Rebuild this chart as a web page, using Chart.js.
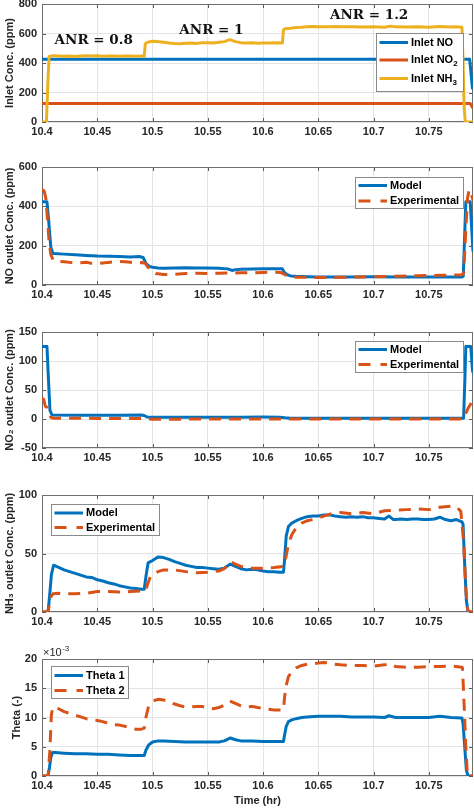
<!DOCTYPE html>
<html>
<head>
<meta charset="utf-8">
<script src="https://cdn.jsdelivr.net/npm/chart.js@4.4.0/dist/chart.umd.min.js"></script>
<style>
  body { margin: 0; background: #fff; width: 474px; height: 808px; overflow: hidden; position: relative; }
</style>
</head>
<body>
<script>
// ---- data (time in hr) ----
const timeTicks = [10.4, 10.45, 10.5, 10.55, 10.6, 10.65, 10.7, 10.75];

// panel 1: inlet concentrations (ppm)
const inletNoTime = [10.4, 10.787, 10.7895, 10.79];
const inletNo = [425, 425, 230, 225];
const inletNo2Time = [10.4, 10.7875, 10.7895, 10.79];
const inletNo2 = [125, 125, 100, 95];
const inletNh3Time = [
  10.4, 10.404, 10.4055, 10.4065, 10.41, 10.415, 10.42, 10.425, 10.43, 10.435,
  10.44, 10.445, 10.45, 10.455, 10.46, 10.465, 10.47, 10.475, 10.48, 10.485,
  10.49, 10.4925, 10.4935, 10.495, 10.5, 10.505, 10.51, 10.515, 10.52, 10.525,
  10.53, 10.535, 10.54, 10.545, 10.55, 10.555, 10.56, 10.565, 10.57, 10.575,
  10.58, 10.585, 10.59, 10.595, 10.6, 10.605, 10.61, 10.6175, 10.6185, 10.62,
  10.625, 10.63, 10.635, 10.64, 10.645, 10.65, 10.66, 10.665, 10.67, 10.68,
  10.69, 10.7, 10.71, 10.715, 10.72, 10.73, 10.74, 10.75, 10.76, 10.77,
  10.775, 10.78, 10.781, 10.782, 10.783, 10.79];
const inletNh3 = [
  0, 0, 300, 445, 450, 448, 445, 447, 444, 448,
  450, 447, 449, 446, 448, 447, 446, 448, 447, 446,
  448, 447, 530, 540, 548, 545, 540, 535, 532, 530,
  534, 536, 533, 538, 537, 536, 540, 545, 558, 545,
  538, 535, 537, 534, 536, 535, 537, 535, 625, 632,
  635, 640, 642, 645, 648, 646, 645, 648, 645, 646,
  644, 645, 643, 650, 645, 644, 646, 643, 647, 644,
  645, 642, 400, 100, 0, 0];
const anrLabels = ['ANR = 0.8', 'ANR = 1', 'ANR = 1.2'];

// panel 2: NO outlet (ppm)
const noModelTime = [
  10.4, 10.4045, 10.406, 10.408, 10.41, 10.42, 10.43, 10.44, 10.45, 10.46,
  10.47, 10.48, 10.488, 10.4915, 10.494, 10.497, 10.5, 10.505, 10.51, 10.52,
  10.53, 10.54, 10.55, 10.56, 10.568, 10.572, 10.575, 10.58, 10.59, 10.6,
  10.61, 10.6175, 10.6195, 10.622, 10.625, 10.63, 10.64, 10.65, 10.66, 10.68,
  10.7, 10.72, 10.74, 10.76, 10.78, 10.7812, 10.7835, 10.7875, 10.79];
const noModel = [
  423, 423, 330, 190, 160, 157, 154, 150, 147, 146,
  145, 143, 145, 140, 110, 95, 90, 86, 85, 87,
  88, 87, 86, 85, 82, 74, 78, 80, 81, 82,
  82, 82, 62, 52, 46, 44, 42, 41, 41, 41,
  42, 41, 41, 41, 41, 45, 423, 423, 170];
const noExpTime = [
  10.4, 10.402, 10.4035, 10.405, 10.4065, 10.408, 10.41, 10.413, 10.42, 10.425,
  10.43, 10.435, 10.44, 10.445, 10.45, 10.455, 10.46, 10.465, 10.47, 10.475,
  10.48, 10.485, 10.49, 10.4935, 10.496, 10.499, 10.503, 10.51, 10.52, 10.53,
  10.54, 10.55, 10.56, 10.57, 10.58, 10.59, 10.6, 10.61, 10.6165, 10.62,
  10.623, 10.63, 10.64, 10.65, 10.66, 10.67, 10.68, 10.69, 10.7, 10.71,
  10.72, 10.73, 10.74, 10.75, 10.76, 10.77, 10.78, 10.7815, 10.7835, 10.785,
  10.7865, 10.788, 10.79];
const noExp = [
  485, 478, 440, 330, 215, 155, 128, 120, 118, 115,
  112, 113, 116, 110, 108, 112, 115, 117, 119, 118,
  116, 112, 114, 110, 90, 70, 58, 53, 55, 58,
  60, 59, 60, 61, 62, 62, 64, 65, 63, 52,
  44, 40, 39, 38, 38, 39, 40, 41, 42, 43,
  45, 46, 47, 48, 49, 50, 52, 60, 280, 440,
  485, 475, 430];

// panel 3: NO2 outlet (ppm)
const no2ModelTime = [
  10.4, 10.4045, 10.4058, 10.4072, 10.409, 10.43, 10.45, 10.47, 10.49, 10.4925,
  10.495, 10.5, 10.52, 10.55, 10.58, 10.6, 10.615, 10.62, 10.625, 10.65,
  10.7, 10.75, 10.7815, 10.7825, 10.7835, 10.788, 10.7895, 10.79];
const no2Model = [
  125, 125, 70, 15, 7, 6.5, 6.5, 6.5, 7, 6,
  3.5, 3, 3, 3, 3.2, 3.5, 3.2, 2, 1.5, 1.5,
  1.5, 1.5, 1.5, 60, 125, 125, 85, 80];
const no2ExpTime = [
  10.4, 10.4015, 10.403, 10.4045, 10.406, 10.408, 10.41, 10.45, 10.49, 10.495,
  10.5, 10.55, 10.6, 10.65, 10.7, 10.75, 10.781, 10.783, 10.786, 10.79];
const no2Exp = [
  35, 34, 22, 20, 10, 3, 1.5, 1, 1, 0,
  -0.5, 0, 0, 0, 0, 0, 0, 8, 20, 32];

// panel 4: NH3 outlet (ppm)
const nh3ModelTime = [
  10.4, 10.4055, 10.407, 10.4085, 10.4105, 10.413, 10.42, 10.425, 10.43, 10.435,
  10.44, 10.445, 10.45, 10.455, 10.46, 10.465, 10.47, 10.475, 10.48, 10.485,
  10.49, 10.4925, 10.494, 10.496, 10.5, 10.505, 10.51, 10.515, 10.52, 10.525,
  10.53, 10.535, 10.54, 10.545, 10.55, 10.555, 10.56, 10.565, 10.5705, 10.575,
  10.58, 10.585, 10.59, 10.595, 10.6, 10.605, 10.61, 10.615, 10.6185, 10.6195,
  10.621, 10.623, 10.626, 10.63, 10.635, 10.64, 10.645, 10.65, 10.655, 10.66,
  10.665, 10.67, 10.675, 10.68, 10.685, 10.69, 10.695, 10.7, 10.705, 10.71,
  10.714, 10.718, 10.72, 10.725, 10.73, 10.735, 10.74, 10.745, 10.75, 10.755,
  10.76, 10.765, 10.77, 10.775, 10.78, 10.781, 10.7825, 10.784, 10.7855, 10.79];
const nh3Model = [
  0, 0, 15, 32, 40, 39, 36, 34.5, 33, 31.5,
  30, 29.5, 27.5, 26.5, 25, 24, 22.5, 21.5, 20.5, 20,
  19.5, 19.5, 30, 42, 44, 47, 46.5, 45, 43, 41.5,
  40, 39, 38, 38, 37.5, 37, 36.5, 37.5, 41, 39,
  37, 36, 36.5, 36, 35, 34.5, 34.5, 34, 34, 45,
  65, 73, 76, 78, 80, 81.5, 82, 82, 83, 83,
  82, 81.5, 81, 81.5, 81, 81.5, 80.5, 80.5, 80, 79.5,
  82, 79, 79, 79.5, 79, 79.5, 79.5, 79, 79, 79.5,
  81, 79, 78, 79, 77, 75, 40, 10, 0, 0];
const nh3ExpTime = [
  10.4, 10.405, 10.4065, 10.408, 10.41, 10.415, 10.42, 10.43, 10.44, 10.45,
  10.46, 10.47, 10.48, 10.49, 10.4935, 10.496, 10.498, 10.5, 10.505, 10.51,
  10.52, 10.53, 10.54, 10.55, 10.56, 10.565, 10.57, 10.575, 10.58, 10.59,
  10.6, 10.61, 10.618, 10.6205, 10.623, 10.626, 10.63, 10.635, 10.64, 10.645,
  10.65, 10.655, 10.66, 10.665, 10.67, 10.68, 10.69, 10.7, 10.71, 10.72,
  10.73, 10.74, 10.75, 10.76, 10.77, 10.775, 10.779, 10.7815, 10.7835, 10.785,
  10.786, 10.79];
const nh3Exp = [
  0, 0, 5, 13, 15.5, 16, 15.5, 15.5, 16, 17.5,
  17.5, 17, 17.5, 18, 18, 25, 30, 32, 34.5, 36,
  36, 34.5, 33.5, 34, 35, 37, 43, 41, 39, 37.5,
  37.5, 38, 39, 46, 58, 66, 72, 76, 78, 79,
  80.5, 82, 83.5, 85, 85, 84, 85, 84, 86.5, 87,
  87.5, 88, 87.5, 89.5, 90.5, 90, 86, 60, 20, 3,
  0, 0];

// panel 5: surface coverage, in units of 1e-3
const theta1Time = [
  10.4, 10.4055, 10.4068, 10.408, 10.4095, 10.412, 10.42, 10.43, 10.44, 10.45,
  10.46, 10.47, 10.48, 10.49, 10.4925, 10.494, 10.4965, 10.5, 10.505, 10.51,
  10.52, 10.53, 10.54, 10.55, 10.56, 10.565, 10.5705, 10.575, 10.58, 10.59,
  10.6, 10.61, 10.6185, 10.6195, 10.621, 10.623, 10.626, 10.63, 10.635, 10.64,
  10.65, 10.66, 10.67, 10.68, 10.69, 10.7, 10.71, 10.714, 10.72, 10.73,
  10.74, 10.75, 10.76, 10.77, 10.78, 10.781, 10.7825, 10.784, 10.7855, 10.79];
const theta1 = [
  0, 0, 1.5, 3.2, 4.0, 4.0, 3.9, 3.8, 3.8, 3.7,
  3.7, 3.6, 3.5, 3.5, 3.5, 4.4, 5.3, 5.8, 6.0, 6.0,
  5.9, 5.8, 5.8, 5.8, 5.8, 6.0, 6.5, 6.2, 6.0, 6.0,
  5.9, 5.9, 5.9, 7.0, 8.5, 9.3, 9.6, 9.8, 10.0, 10.1,
  10.2, 10.2, 10.2, 10.1, 10.1, 10.1, 10.0, 10.3, 10.0, 10.0,
  10.0, 10.0, 10.2, 10.0, 9.9, 9.0, 5, 1, 0, 0];
const theta2Time = [
  10.4, 10.4055, 10.407, 10.4085, 10.41, 10.415, 10.42, 10.425, 10.43, 10.435,
  10.44, 10.445, 10.45, 10.455, 10.46, 10.465, 10.47, 10.475, 10.48, 10.485,
  10.49, 10.4925, 10.494, 10.4965, 10.5, 10.505, 10.51, 10.515, 10.52, 10.525,
  10.53, 10.535, 10.54, 10.545, 10.55, 10.555, 10.56, 10.565, 10.57, 10.575,
  10.58, 10.585, 10.59, 10.595, 10.6, 10.605, 10.61, 10.6185, 10.6195, 10.621,
  10.623, 10.626, 10.63, 10.635, 10.64, 10.645, 10.65, 10.655, 10.66, 10.665,
  10.67, 10.68, 10.69, 10.7, 10.71, 10.715, 10.72, 10.73, 10.74, 10.75,
  10.76, 10.77, 10.78, 10.7805, 10.782, 10.7835, 10.785, 10.79];
const theta2 = [
  0, 0, 4, 10.5, 11.8, 11.5, 11.0, 10.7, 10.4, 10.1,
  9.8, 9.6, 9.5, 9.3, 9.0, 8.8, 8.7, 8.5, 8.2, 8.0,
  8.0, 8.2, 10, 12, 12.8, 13.1, 13.0, 12.6, 12.3, 12.0,
  11.8, 11.8, 11.9, 11.9, 11.6, 11.5, 11.7, 12.1, 12.8, 12.4,
  12.0, 11.8, 11.9, 11.7, 11.6, 11.4, 11.3, 11.3, 13.5, 15.5,
  17.0, 17.8, 18.5, 18.9, 19.1, 19.2, 19.3, 19.4, 19.3, 19.1,
  19.0, 18.9, 18.9, 18.8, 19.0, 19.2, 18.7, 18.6, 18.6, 18.7,
  18.7, 18.8, 18.6, 18.5, 12, 5, 0, 0];

// ---- styling ----
const BLUE = '#0072BD', ORANGE = '#D95319', YELLOW = '#EDB120';
const SANS = '"Liberation Sans", Arial, Helvetica, sans-serif';
const PAD_TOP = 20;
Chart.defaults.color = '#262626';
Chart.defaults.font.family = SANS;

const pts = (t, v) => t.map((x, i) => ({x: x, y: v[i]}));

function series(label, t, v, color, dashed) {
  return {
    label: label, data: pts(t, v), borderColor: color, backgroundColor: color,
    borderWidth: 3, borderDash: dashed ? [12, 8] : [], pointRadius: 0,
    tension: 0, borderJoinStyle: 'round', fill: false
  };
}

// draws text, turning ₂ / ₃ into lowered small digits
function richText(ctx, text, x, y, size) {
  const subs = {'\u2082': '2', '\u2083': '3'};
  let cx = x;
  for (const ch of text) {
    if (subs[ch]) {
      ctx.font = 'bold ' + Math.round(size * 0.75) + 'px ' + SANS;
      ctx.fillText(subs[ch], cx, y + size * 0.38);
      cx += ctx.measureText(subs[ch]).width;
    } else {
      ctx.font = 'bold ' + size + 'px ' + SANS;
      ctx.fillText(ch, cx, y);
      cx += ctx.measureText(ch).width;
    }
  }
}

const frame = {
  id: 'frame',
  beforeDatasetsDraw(chart) {
    const {ctx, chartArea: a, scales} = chart;
    ctx.save();
    ctx.strokeStyle = '#5a5a5a';
    ctx.lineWidth = 1;
    const tl = 4;
    ctx.beginPath();
    scales.x.ticks.forEach(t => {
      const px = Math.round(scales.x.getPixelForValue(t.value)) + 0.5;
      ctx.moveTo(px, a.bottom); ctx.lineTo(px, a.bottom - tl);
      ctx.moveTo(px, a.top); ctx.lineTo(px, a.top + tl);
    });
    scales.y.ticks.forEach(t => {
      const py = Math.round(scales.y.getPixelForValue(t.value)) + 0.5;
      ctx.moveTo(a.left, py); ctx.lineTo(a.left + tl, py);
      ctx.moveTo(a.right, py); ctx.lineTo(a.right - tl, py);
    });
    ctx.stroke();
    ctx.strokeStyle = '#6e6e6e';
    ctx.strokeRect(Math.round(a.left) + 0.5, Math.round(a.top) + 0.5,
      Math.round(a.right - a.left) - 1, Math.round(a.bottom - a.top) - 1);
    ctx.restore();
  },
  afterDraw(chart, args, o) {
    const {ctx, chartArea: a, scales} = chart;
    ctx.save();
    // in-plot annotations
    (o.notes || []).forEach(n => {
      ctx.font = 'bold 13.5px "DejaVu Serif", "Liberation Serif", serif';
      ctx.fillStyle = '#111';
      ctx.textAlign = 'center';
      ctx.textBaseline = 'middle';
      ctx.fillText(n.text, scales.x.getPixelForValue(n.x), scales.y.getPixelForValue(n.y));
    });
    if (o.exponent) {
      ctx.fillStyle = '#262626';
      ctx.textAlign = 'left';
      ctx.textBaseline = 'middle';
      ctx.font = '11px ' + SANS;
      const ex = a.left + 1, ey = a.top - 6;
      ctx.fillText('\u00d710', ex, ey);
      const w = ctx.measureText('\u00d710').width;
      ctx.font = '8px ' + SANS;
      ctx.fillText('-3', ex + w + 0.5, ey - 4);
    }
    // legend box inside the axes
    const L = o.legend;
    if (L) {
      const bx = Math.round(a.left + L.x), by = Math.round(a.top + L.y);
      ctx.fillStyle = '#fff';
      ctx.fillRect(bx, by, L.w, L.h);
      ctx.strokeStyle = '#8a8a8a';
      ctx.lineWidth = 1;
      ctx.strokeRect(bx + 0.5, by + 0.5, L.w, L.h);
      chart.data.datasets.forEach((ds, i) => {
        const y = by + L.rows[i];
        ctx.strokeStyle = ds.borderColor;
        ctx.lineWidth = 3;
        ctx.setLineDash(ds.borderDash.length ? [12, 10] : []);
        ctx.beginPath();
        ctx.moveTo(bx + 3.5, y);
        ctx.lineTo(bx + 32, y);
        ctx.stroke();
        ctx.setLineDash([]);
        ctx.fillStyle = '#000';
        ctx.textAlign = 'left';
        ctx.textBaseline = 'middle';
        richText(ctx, ds.label, bx + 35, y, 11);
      });
    }
    ctx.restore();
  }
};

function makePanel(p) {
  const xh = p.xTitle ? 32 : 30;
  const h = PAD_TOP + (p.bottom - p.top) + xh;
  const c = document.createElement('canvas');
  c.width = 474; c.height = h;
  c.style.cssText = 'position:absolute;left:0;top:' + (p.top - PAD_TOP) + 'px;width:474px;height:' + h + 'px';
  document.body.appendChild(c);
  const n = p.datasets.length;
  p.datasets.forEach((d, i) => { d.order = n - i; });
  return new Chart(c, {
    type: 'line',
    data: {datasets: p.datasets},
    options: {
      responsive: false, animation: false, devicePixelRatio: 1, events: [],
      layout: {padding: {left: 0, right: 1, top: PAD_TOP, bottom: 0}},
      plugins: {
        legend: {display: false}, tooltip: {enabled: false},
        frame: {legend: p.legend, notes: p.notes, exponent: p.exponent}
      },
      scales: {
        x: {
          type: 'linear', min: 10.4, max: 10.79,
          afterFit: s => { s.height = xh; },
          afterBuildTicks: s => { s.ticks = timeTicks.map(v => ({value: v})); },
          ticks: {padding: 3, font: {size: 11, weight: 'bold'}, maxRotation: 0,
                  callback: v => String(+v.toFixed(2))},
          grid: {color: '#e4e4e4', drawTicks: false},
          border: {display: false},
          title: {display: !!p.xTitle, text: p.xTitle, font: {size: 11, weight: 'bold'},
                  padding: {top: 0, bottom: 0}}
        },
        y: {
          min: p.yMin, max: p.yMax,
          afterFit: s => { s.width = 42; },
          ticks: {stepSize: p.yStep, padding: 5, font: {size: 11, weight: 'bold'},
                  callback: v => String(v)},
          grid: {color: '#e4e4e4', drawTicks: false},
          border: {display: false},
          title: {display: true, text: p.yTitle, font: {size: 11, weight: 'bold'},
                  padding: {top: p.yTitlePad, bottom: 0}}
        }
      }
    },
    plugins: [frame]
  });
}

makePanel({
  top: 4, bottom: 122, yMin: 0, yMax: 800, yStep: 200, yTitle: 'Inlet Conc. (ppm)', yTitlePad: 3,
  datasets: [
    series('Inlet NO', inletNoTime, inletNo, BLUE, false),
    series('Inlet NO\u2082', inletNo2Time, inletNo2, ORANGE, false),
    series('Inlet NH\u2083', inletNh3Time, inletNh3, YELLOW, false)
  ],
  legend: {x: 334, y: 29, w: 87, h: 58, rows: [9.5, 27, 45.5]},
  notes: [
    {text: anrLabels[0], x: 10.4468, y: 550},
    {text: anrLabels[1], x: 10.5533, y: 618},
    {text: anrLabels[2], x: 10.696, y: 725}
  ]
});

makePanel({
  top: 167, bottom: 285, yMin: 0, yMax: 600, yStep: 200, yTitle: 'NO outlet Conc. (ppm)', yTitlePad: 3,
  datasets: [
    series('Model', noModelTime, noModel, BLUE, false),
    series('Experimental', noExpTime, noExp, ORANGE, true)
  ],
  legend: {x: 313, y: 9.5, w: 108, h: 31, rows: [8.5, 24]}
});

makePanel({
  top: 332, bottom: 448, yMin: -50, yMax: 150, yStep: 50, yTitle: 'NO\u2082 outlet Conc. (ppm)', yTitlePad: 3,
  datasets: [
    series('Model', no2ModelTime, no2Model, BLUE, false),
    series('Experimental', no2ExpTime, no2Exp, ORANGE, true)
  ],
  legend: {x: 313, y: 8.5, w: 108, h: 31, rows: [8.5, 23.5]}
});

makePanel({
  top: 495, bottom: 612, yMin: 0, yMax: 100, yStep: 50, yTitle: 'NH\u2083 outlet Conc. (ppm)', yTitlePad: 3,
  datasets: [
    series('Model', nh3ModelTime, nh3Model, BLUE, false),
    series('Experimental', nh3ExpTime, nh3Exp, ORANGE, true)
  ],
  legend: {x: 9, y: 9, w: 108, h: 31, rows: [9, 23.5]}
});

makePanel({
  top: 659, bottom: 776, yMin: 0, yMax: 20, yStep: 5, yTitle: 'Theta (-)', yTitlePad: 10,
  xTitle: 'Time (hr)', exponent: true,
  datasets: [
    series('Theta 1', theta1Time, theta1, BLUE, false),
    series('Theta 2', theta2Time, theta2, ORANGE, true)
  ],
  legend: {x: 9, y: 7, w: 77, h: 32, rows: [9.5, 24.5]}
});
</script>
</body>
</html>
